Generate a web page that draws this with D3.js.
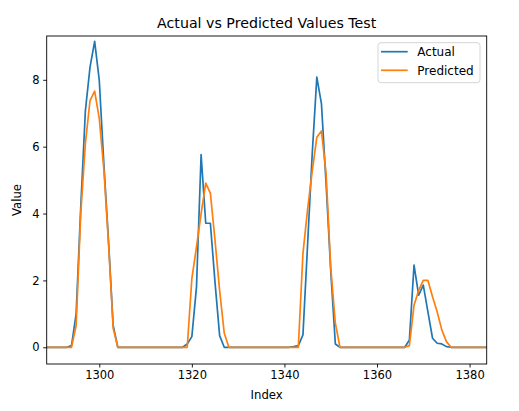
<!DOCTYPE html>
<html>
<head>
<meta charset="utf-8">
<script src="https://cdn.jsdelivr.net/npm/d3@7"></script>
<style>
  body { margin: 0; background: #fff; }
  text { font-family: "DejaVu Sans", sans-serif; fill: #000; }
</style>
</head>
<body>
<div id="chart-container"></div>
<script>
// first index shown, every series value below is one step of the index
var startIndex = 1288;

var actual = [
    0, 0, 0, 0, 0, 0, 0.05, 1.0, 4.2, 7.08,
    8.38, 9.15, 7.98, 5.46, 3.17, 0.65, 0, 0, 0, 0,
    0, 0, 0, 0, 0, 0, 0, 0, 0, 0,
    0, 0.1, 0.32, 1.8, 5.76, 3.71, 3.71, 1.95, 0.35, 0,
    0, 0, 0, 0, 0, 0, 0, 0, 0, 0,
    0, 0, 0, 0, 0.02, 0.05, 0.37, 3.06, 5.77, 8.08,
    7.28, 4.9, 2.3, 0.1, 0, 0, 0, 0, 0, 0,
    0, 0, 0, 0, 0, 0, 0, 0, 0, 0.22,
    2.46, 1.56, 1.86, 1.06, 0.27, 0.12, 0.1, 0.02, 0, 0,
    0, 0, 0, 0, 0, 0, 0
];

var predicted = [
    0, 0, 0, 0, 0, 0, 0, 0.65, 4.0, 6.1,
    7.38, 7.66, 6.84, 5.3, 3.1, 0.57, 0, 0, 0, 0,
    0, 0, 0, 0, 0, 0, 0, 0, 0, 0,
    0, 0, 2.05, 3.0, 4.0, 4.91, 4.61, 3.2, 1.7, 0.42,
    0, 0, 0, 0, 0, 0, 0, 0, 0, 0,
    0, 0, 0, 0, 0, 0, 2.8, 4.12, 5.26, 6.28,
    6.47, 5.2, 2.4, 0.72, 0, 0, 0, 0, 0, 0,
    0, 0, 0, 0, 0, 0, 0, 0, 0, 0.05,
    1.26, 1.7, 2.0, 2.0, 1.51, 1.06, 0.52, 0.17, 0, 0,
    0, 0, 0, 0, 0, 0, 0
];

var seriesNames = ["Actual", "Predicted"];
var seriesColors = ["#1f77b4", "#ff7f0e"];
var xTicks = [1300, 1320, 1340, 1360, 1380];
var yTicks = [0, 2, 4, 6, 8];

var margin = { top: 36, right: 32.3, bottom: 47, left: 46.7 },
    width = 519 - margin.left - margin.right,
    height = 411 - margin.top - margin.bottom;

var svg = d3.select("#chart-container")
    .append("svg")
    .attr("width", 519)
    .attr("height", 411);

var chart = svg.append("g")
    .attr("transform", "translate(" + margin.left + ", " + margin.top + ")");

var xScale = d3.scaleLinear()
    .domain([1288.64, 1383.7])
    .range([0, width]);
var yScale = d3.scaleLinear()
    .domain([-0.5, 9.31])
    .range([height, 0]);

svg.append("defs").append("clipPath")
    .attr("id", "plot-clip")
    .append("rect")
    .attr("width", width)
    .attr("height", height);

var series = [actual, predicted].map(function (vals, k) {
    return {
        name: seriesNames[k],
        color: seriesColors[k],
        points: vals.map(function (v, i) {
            return { x: startIndex + i, y: v };
        })
    };
});

var line = d3.line()
    .x(function (d) { return xScale(d.x); })
    .y(function (d) { return yScale(d.y); });

chart.append("g")
    .attr("clip-path", "url(#plot-clip)")
    .selectAll("path")
    .data(series)
    .enter()
    .append("path")
    .attr("d", function (d) { return line(d.points); })
    .attr("fill", "none")
    .attr("stroke", function (d) { return d.color; })
    .attr("stroke-width", 1.7)
    .attr("stroke-linejoin", "round")
    .attr("stroke-linecap", "square");

var xAxis = d3.axisBottom(xScale)
    .tickValues(xTicks)
    .tickFormat(d3.format("d"))
    .tickSize(3.5)
    .tickPadding(3.5);
var yAxis = d3.axisLeft(yScale)
    .tickValues(yTicks)
    .tickFormat(d3.format("d"))
    .tickSize(3.5)
    .tickPadding(3.5);

var gx = chart.append("g")
    .attr("transform", "translate(0, " + height + ")")
    .call(xAxis);
var gy = chart.append("g")
    .call(yAxis);

[gx, gy].forEach(function (g) {
    g.select(".domain").remove();
    g.selectAll(".tick line").attr("stroke", "#000").attr("stroke-width", 0.9);
    g.selectAll(".tick text")
        .style("font-family", "DejaVu Sans")
        .style("font-size", "11.5px")
        .attr("fill", "#000");
});

// frame
chart.append("rect")
    .attr("width", width)
    .attr("height", height)
    .attr("fill", "none")
    .attr("stroke", "#000")
    .attr("stroke-width", 0.9);

svg.append("text")
    .attr("x", margin.left + width / 2)
    .attr("y", 28.3)
    .attr("text-anchor", "middle")
    .style("font-size", "14.2px")
    .text("Actual vs Predicted Values Test");

svg.append("text")
    .attr("x", margin.left + width / 2)
    .attr("y", 399.3)
    .attr("text-anchor", "middle")
    .style("font-size", "11.7px")
    .text("Index");

svg.append("text")
    .attr("transform", "translate(20.7, " + (margin.top + height / 2) + ") rotate(-90)")
    .attr("text-anchor", "middle")
    .style("font-size", "11.7px")
    .text("Value");

// legend
var legend = svg.append("g")
    .attr("transform", "translate(378, 42.7)");

legend.append("rect")
    .attr("width", 102)
    .attr("height", 40)
    .attr("rx", 3)
    .attr("fill", "#fff")
    .attr("fill-opacity", 0.8)
    .attr("stroke", "#d0d0d0")
    .attr("stroke-width", 0.9);

var items = legend.selectAll("g.item")
    .data(series)
    .enter()
    .append("g")
    .attr("class", "item")
    .attr("transform", function (d, i) {
        return "translate(0, " + (9 + i * 18.6) + ")";
    });

items.append("line")
    .attr("x1", 3)
    .attr("x2", 29.7)
    .attr("stroke", function (d) { return d.color; })
    .attr("stroke-width", 1.7);

items.append("text")
    .attr("x", 39.3)
    .attr("y", 4.5)
    .style("font-size", "12px")
    .text(function (d) { return d.name; });
</script>
</body>
</html>
